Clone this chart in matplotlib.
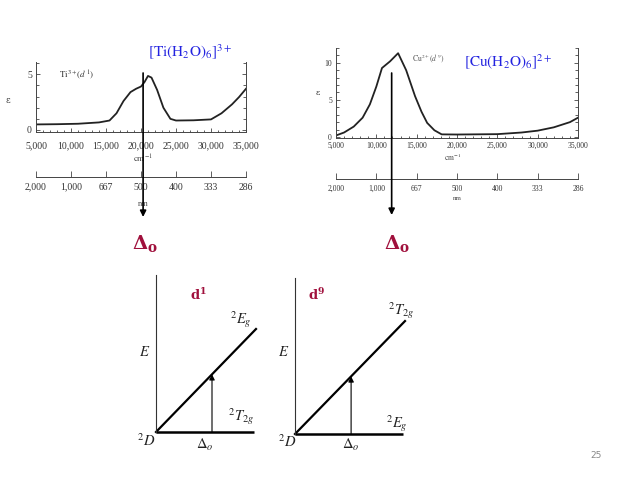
import matplotlib
matplotlib.use('Agg')
import matplotlib.pyplot as plt
import matplotlib.transforms as mtransforms

# absorption spectra (cm^-1, molar absorptivity)
ti_cm = [5000, 8000, 11000, 14000, 15500, 16500, 17500, 18500, 19300, 20000,
         20500, 21000, 21500, 22300, 23200, 24200, 25000, 27500, 30000, 31500,
         33000, 34000, 35000]
ti_eps = [0.5, 0.52, 0.56, 0.68, 0.85, 1.5, 2.6, 3.4, 3.7, 3.9,
          4.3, 4.85, 4.7, 3.6, 2.0, 1.0, 0.85, 0.87, 0.95, 1.5,
          2.3, 2.95, 3.7]
cu_cm = [5000, 6000, 7200, 8300, 9200, 10000, 10700, 11700, 12700, 13700,
         14800, 15600, 16300, 17200, 18100, 20000, 25000, 28000, 30000, 32000,
         34000, 35000]
cu_eps = [0.2, 0.6, 1.4, 2.6, 4.4, 6.8, 9.3, 10.2, 11.3, 9.0,
          5.5, 3.4, 1.9, 0.9, 0.35, 0.33, 0.38, 0.6, 0.85, 1.3,
          2.0, 2.6]

cm_ticks = [5000, 10000, 15000, 20000, 25000, 30000, 35000]
cm_labels = ['5,000', '10,000', '15,000', '20,000', '25,000', '30,000', '35,000']
nm_labels = ['2,000', '1,000', '667', '500', '400', '333', '286']
delta_cm = [20300, 11900]          # where the arrows mark Delta_o

# splitting diagrams: end of the rising level and where Delta_o is drawn
diag_slope = [0.656, 0.724]
diag_arrow_x = [0.56, 0.51]

W, H = 638, 478
red = '#a0103c'
blue = '#2323e0'

fig = plt.figure(figsize=(W / 100, H / 100), dpi=100)


def px_axes(x0, y0, x1, y1):
    # x0,y0 = top-left in pixels, x1,y1 = bottom-right
    return fig.add_axes([x0 / W, 1 - y1 / H, (x1 - x0) / W, (y1 - y0) / H])


def spectrum(box, cm, eps, ylim, yticks, labpad, nm_y, fs):
    ax = px_axes(*box)
    ax.patch.set_alpha(0)
    ax.plot(cm, eps, color='#222222', lw=1.3)
    ax.set_xlim(5000, 35000)
    ax.set_ylim(*ylim)
    ax.spines['top'].set_visible(False)
    for s in ax.spines.values():
        s.set_linewidth(0.7)
        s.set_color('#444444')
    ax.set_xticks(cm_ticks)
    ax.set_xticklabels(cm_labels, fontsize=fs, family='Liberation Serif', color='#333333')
    ax.set_xticks(range(5000, 35001, 1000), minor=True)
    ax.set_yticks(yticks)
    ax.set_yticklabels([str(t) for t in yticks], fontsize=fs, family='Liberation Serif',
                       color='#333333')
    ax.set_yticks(range(int(ylim[1]) + 1), minor=True)
    ax.tick_params(which='both', direction='in', right=True, color='#444444', width=0.6)
    ax.tick_params(axis='x', which='major', length=3, pad=labpad)
    ax.tick_params(axis='x', which='minor', length=1.5)
    ax.tick_params(axis='y', which='major', length=3, pad=3)
    ax.tick_params(axis='y', which='minor', length=2)

    # second (wavelength) scale
    nm = px_axes(box[0], nm_y - 1, box[2], nm_y)
    nm.set_xlim(5000, 35000)
    for k in ['top', 'left', 'right']:
        nm.spines[k].set_visible(False)
    nm.spines['bottom'].set_linewidth(0.7)
    nm.spines['bottom'].set_color('#444444')
    nm.set_yticks([])
    nm.set_xticks(cm_ticks)
    nm.set_xticklabels(nm_labels, fontsize=fs, family='Liberation Serif', color='#333333')
    nm.tick_params(axis='x', direction='in', length=4, width=0.6, pad=4, color='#444444')
    nm.patch.set_alpha(0)
    return ax


ax1 = spectrum((36, 62, 246, 132), ti_cm, ti_eps, (-0.18, 6.1), [0, 5], 7, 177, 7)
ax2 = spectrum((336, 48, 578, 138), cu_cm, cu_eps, (-0.14, 12.0), [0, 5, 10], 3, 179, 5.5)

# pixel-coordinate overlay for text and arrows, drawn on top
ov = fig.add_axes([0, 0, 1, 1])
ov.set_xlim(0, W)
ov.set_ylim(H, 0)
ov.axis('off')
ov.set_zorder(10)

ov.text(8, 100, 'ε', fontsize=6.5, family='DejaVu Serif', ha='center', va='center', color='#333')
ov.text(318, 93, 'ε', fontsize=6, family='DejaVu Serif', ha='center', va='center', color='#333')
ov.text(77, 75, r'$\mathrm{Ti^{3+}}(d^{\,1})$', fontsize=6.5, math_fontfamily='stix',
        ha='center', va='center', color='#333')
ov.text(428, 59, r'$\mathrm{Cu^{2+}}(d^{\,9})$', fontsize=5.5, math_fontfamily='stix',
        ha='center', va='center', color='#555')
ov.text(143, 159, r'$\mathrm{cm}^{-1}$', fontsize=6.5, math_fontfamily='stix',
        ha='center', va='center', color='#444')
ov.text(453, 157, r'$\mathrm{cm}^{-1}$', fontsize=5.5, math_fontfamily='stix',
        ha='center', va='center', color='#444')
ov.text(143, 204, 'nm', fontsize=6, family='Liberation Serif', ha='center', va='center',
        color='#444')
ov.text(457, 198, 'nm', fontsize=5, family='Liberation Serif', ha='center', va='center',
        color='#444')

ov.text(190, 52, r'$\mathrm{[Ti(H_2O)_6]^{3+}}$', fontsize=11, math_fontfamily='stix',
        ha='center', va='center', color=blue)
ov.text(508, 62, r'$\mathrm{[Cu(H_2O)_6]^{2+}}$', fontsize=11, math_fontfamily='stix',
        ha='center', va='center', color=blue)

# arrows marking Delta_o on each spectrum
for ax, c, y0, y1 in [(ax1, delta_cm[0], 73, 217), (ax2, delta_cm[1], 73, 215)]:
    tr = mtransforms.blended_transform_factory(ax.transData, ov.transData)
    ov.annotate('', xy=(c, y1), xytext=(c, y0), xycoords=tr, textcoords=tr,
                annotation_clip=False,
                arrowprops=dict(arrowstyle='-|>', lw=1.2, color='black',
                                mutation_scale=9, shrinkA=0, shrinkB=0))

ov.text(145, 243, r'$\mathbf{\Delta_o}$', fontsize=14, math_fontfamily='dejavuserif',
        ha='center', va='center', color=red)
ov.text(397, 243, r'$\mathbf{\Delta_o}$', fontsize=14, math_fontfamily='dejavuserif',
        ha='center', va='center', color=red)


# energy level diagrams
def diagram(box, slope, ax_x):
    ax = px_axes(*box)
    ax.set_xlim(0, 1)
    ax.set_ylim(0, 1)
    for k in ['top', 'right', 'bottom']:
        ax.spines[k].set_visible(False)
    ax.spines['left'].set_linewidth(0.8)
    ax.spines['left'].set_color('#333333')
    ax.set_xticks([])
    ax.set_yticks([])
    ax.patch.set_alpha(0)
    ax.plot([0, 0.98], [0, 0], color='black', lw=1.8, solid_capstyle='butt', clip_on=False)
    ax.plot([0, 1], [0, slope], color='black', lw=1.6, clip_on=False)
    ax.annotate('', xy=(ax_x, ax_x * slope), xytext=(ax_x, 0),
                arrowprops=dict(arrowstyle='-|>', lw=0.8, color='black',
                                mutation_scale=8, shrinkA=0, shrinkB=0))
    return ax


diagram((156, 275, 256, 432), diag_slope[0], diag_arrow_x[0])
diagram((295, 278, 405, 434), diag_slope[1], diag_arrow_x[1])

lab = dict(fontsize=10.5, math_fontfamily='stix', ha='center', va='center', color='#222')
ov.text(198, 295, r'$\mathbf{d^1}$', fontsize=9.5, math_fontfamily='dejavuserif',
        ha='center', va='center', color=red)
ov.text(317, 295, r'$\mathbf{d^9}$', fontsize=9.5, math_fontfamily='dejavuserif',
        ha='center', va='center', color=red)
ov.text(241, 320, r'$^2E_g$', **lab)
ov.text(241, 417, r'$^2T_{2g}$', **lab)
ov.text(145, 352, r'$E$', **lab)
ov.text(146, 441, r'$^2D$', **lab)
ov.text(205, 445, r'$\Delta_o$', **lab)
ov.text(401, 311, r'$^2T_{2g}$', **lab)
ov.text(397, 424, r'$^2E_g$', **lab)
ov.text(284, 352, r'$E$', **lab)
ov.text(287, 442, r'$^2D$', **lab)
ov.text(351, 445, r'$\Delta_o$', **lab)

ov.text(596, 455, '25', fontsize=6.5, family='DejaVu Sans', color='#888888',
        ha='center', va='center')

fig.savefig('out.png', dpi=100)
